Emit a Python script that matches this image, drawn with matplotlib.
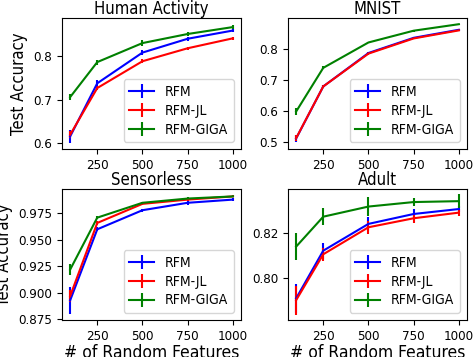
import numpy as np
import matplotlib
matplotlib.use("Agg")
import matplotlib.pyplot as plt

plt.rcParams['font.family'] = ['DejaVu Sans']
plt.rcParams['font.stretch'] = 'condensed'

n_features = [100, 250, 500, 750, 1000]
methods = ["RFM", "RFM-JL", "RFM-GIGA"]
colors = ["blue", "red", "green"]

# Human Activity
ha_mean = [[0.615, 0.738, 0.809, 0.841, 0.860],
           [0.619, 0.727, 0.789, 0.819, 0.842],
           [0.706, 0.787, 0.831, 0.852, 0.868]]
ha_err = [[0.014, 0.008, 0.006, 0.005, 0.004],
          [0.008, 0.005, 0.005, 0.004, 0.004],
          [0.007, 0.006, 0.006, 0.005, 0.004]]

# MNIST
mn_mean = [[0.510, 0.678, 0.786, 0.835, 0.861],
           [0.511, 0.678, 0.784, 0.833, 0.859],
           [0.597, 0.738, 0.820, 0.858, 0.879]]
mn_err = [[0.012, 0.006, 0.004, 0.003, 0.003],
          [0.010, 0.005, 0.004, 0.003, 0.003],
          [0.010, 0.005, 0.003, 0.003, 0.002]]

# Sensorless
se_mean = [[0.893, 0.960, 0.978, 0.985, 0.988],
           [0.897, 0.966, 0.984, 0.988, 0.991],
           [0.922, 0.971, 0.985, 0.989, 0.991]]
se_err = [[0.013, 0.002, 0.0015, 0.002, 0.0015],
          [0.006, 0.002, 0.0015, 0.001, 0.001],
          [0.005, 0.0015, 0.001, 0.001, 0.001]]

# Adult
ad_mean = [[0.7908, 0.8120, 0.8239, 0.8283, 0.8305],
           [0.7900, 0.8104, 0.8224, 0.8264, 0.8289],
           [0.8138, 0.8271, 0.8316, 0.8336, 0.8340]]
ad_err = [[0.0063, 0.0035, 0.0030, 0.0020, 0.0015],
          [0.0065, 0.0030, 0.0030, 0.0020, 0.0015],
          [0.0060, 0.0037, 0.0042, 0.0017, 0.0030]]

panels = [
    ("Human Activity", ha_mean, ha_err, [0.6, 0.7, 0.8], (0.586, 0.889), "%.1f"),
    ("MNIST", mn_mean, mn_err, [0.5, 0.6, 0.7, 0.8], (0.476, 0.899), "%.1f"),
    ("Sensorless", se_mean, se_err, [0.875, 0.9, 0.925, 0.95, 0.975], (0.8745, 0.998), "%.3f"),
    ("Adult", ad_mean, ad_err, [0.80, 0.82], (0.7812, 0.8394), "%.2f"),
]

fig = plt.figure(figsize=(4.74, 3.57), dpi=100)
w = 179 / 474
h = 131 / 357
lefts = [62 / 474, 288 / 474]
bottoms = [1 - 149 / 357, 1 - 320 / 357]

for k, (title, mean, err, yt, ylim, fmt) in enumerate(panels):
    ax = fig.add_axes([lefts[k % 2], bottoms[k // 2], w, h])
    for m in range(3):
        ax.errorbar(n_features, mean[m], yerr=err[m], color=colors[m],
                    label=methods[m], linewidth=1.5, elinewidth=1.5)
    ax.set_xlim(55, 1045)
    ax.set_xticks([250, 500, 750, 1000])
    ax.set_yticks(yt)
    ax.set_yticklabels([fmt % v for v in yt])
    ax.set_ylim(*ylim)
    ax.tick_params(labelsize=9.5)
    ax.set_title(title, fontsize=12, pad=3)
    ax.legend(loc="lower right", fontsize=10, labelspacing=0.35, handlelength=1.8)
    if k % 2 == 0:
        ax.set_ylabel("Test Accuracy", fontsize=12)
    if k // 2 == 1:
        ax.set_xlabel("# of Random Features", fontsize=12.5, labelpad=1)

fig.savefig("out.png", dpi=100)
